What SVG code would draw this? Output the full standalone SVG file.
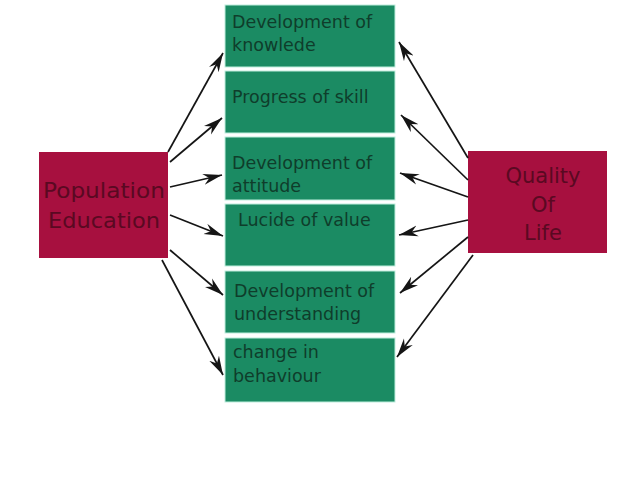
<svg xmlns="http://www.w3.org/2000/svg" width="638" height="479" viewBox="0 0 638 479">
<defs>
<style>
.g{fill:#1b8b63;stroke:#bfeede;stroke-width:1}
.r{fill:#a7103f}
.gt{font-family:"DejaVu Sans",sans-serif;font-size:17.5px;fill:#0f3d2b}
.rt{font-family:"DejaVu Sans",sans-serif;font-size:21px;fill:#5a0922;text-anchor:middle}
.c{stroke:#151515;stroke-width:1.7;fill:none;marker-end:url(#ah)}
</style>
<marker id="ah" viewBox="-19 -6 20 12" refX="0" refY="0" markerWidth="20" markerHeight="12" markerUnits="userSpaceOnUse" orient="auto">
<path d="M0,0 L-19,-5.5 L-13,0 L-19,5.5 Z" fill="#151515"/>
</marker>
</defs>
<rect width="638" height="479" fill="#ffffff"/>
<g id="b1"><rect class="g" x="225" y="5" width="170" height="62"/><text class="gt" x="232" y="28">Development of</text><text class="gt" x="232" y="51">knowlede</text></g>
<g id="b2"><rect class="g" x="225" y="71" width="170" height="62"/><text class="gt" x="232" y="103">Progress of skill</text></g>
<g id="b3"><rect class="g" x="225" y="137" width="170" height="63"/><text class="gt" x="232" y="169">Development of</text><text class="gt" x="232" y="192">attitude</text></g>
<g id="b4"><rect class="g" x="225" y="204" width="170" height="62"/><text class="gt" x="238" y="226">Lucide of value</text></g>
<g id="b5"><rect class="g" x="225" y="271" width="170" height="62"/><text class="gt" x="234" y="297">Development of</text><text class="gt" x="234" y="320">understanding</text></g>
<g id="b6"><rect class="g" x="225" y="338" width="170" height="64"/><text class="gt" x="233" y="358">change in</text><text class="gt" x="233" y="382">behaviour</text></g>
<g id="pe"><rect class="r" x="39" y="152" width="129" height="106"/><text class="rt" x="104" y="198" textLength="122" lengthAdjust="spacingAndGlyphs">Population</text><text class="rt" x="104" y="228" textLength="112" lengthAdjust="spacingAndGlyphs">Education</text></g>
<g id="ql"><rect class="r" x="468" y="151" width="139" height="102"/><text class="rt" x="543" y="183">Quality</text><text class="rt" x="543" y="212">Of</text><text class="rt" x="543" y="240">Life</text></g>
<g id="connectors">
<line class="c" x1="168" y1="152" x2="223" y2="53"/>
<line class="c" x1="170" y1="162" x2="222" y2="118"/>
<line class="c" x1="170" y1="187" x2="222" y2="175"/>
<line class="c" x1="170" y1="215" x2="223" y2="236"/>
<line class="c" x1="170" y1="250" x2="223" y2="295"/>
<line class="c" x1="162" y1="260" x2="223" y2="375"/>
<line class="c" x1="468" y1="158" x2="399" y2="42"/>
<line class="c" x1="468" y1="180" x2="401" y2="115"/>
<line class="c" x1="468" y1="197" x2="400" y2="173"/>
<line class="c" x1="468" y1="220" x2="399" y2="235"/>
<line class="c" x1="468" y1="237" x2="400" y2="293"/>
<line class="c" x1="473" y1="255" x2="397" y2="357"/>
</g>
</svg>
